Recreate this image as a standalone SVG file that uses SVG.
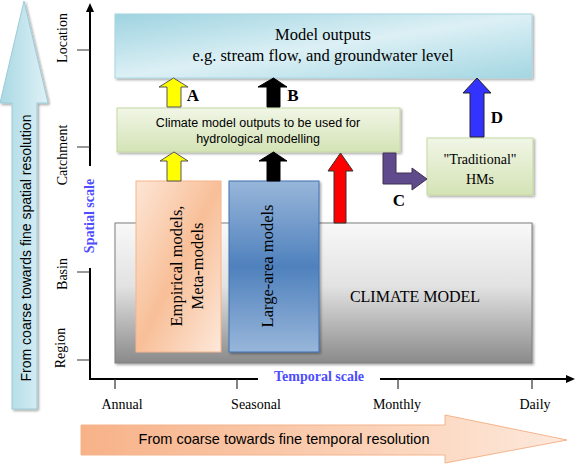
<svg xmlns="http://www.w3.org/2000/svg" width="575" height="465" viewBox="0 0 575 465">
<defs>
<style>
.serif{font-family:"Liberation Serif","Times New Roman",serif;fill:#000}
.sans{font-family:"Liberation Sans",Arial,sans-serif;fill:#000}
.axis{stroke:#000;stroke-width:2;fill:none}
.tick{stroke:#333;stroke-width:1.2}
.lbl{font-family:"Liberation Serif","Times New Roman",serif;font-size:14px;fill:#000}
.axt{font-family:"Liberation Serif","Times New Roman",serif;font-size:14px;font-weight:bold;fill:#4d4dff}
.let{font-family:"Liberation Serif","Times New Roman",serif;font-size:17px;font-weight:bold;fill:#000}
</style>
<linearGradient id="gBlue" x1="0" y1="0" x2="1" y2="1">
<stop offset="0" stop-color="#9ed3e0"/><stop offset="0.5" stop-color="#dcf0f5"/><stop offset="1" stop-color="#a3d6e2"/>
</linearGradient>
<linearGradient id="gGreen" x1="0" y1="0" x2="0" y2="1">
<stop offset="0" stop-color="#f1f6e6"/><stop offset="1" stop-color="#d4e3b6"/>
</linearGradient>
<linearGradient id="gGray" x1="0" y1="0" x2="0" y2="1">
<stop offset="0" stop-color="#f8f8f8"/><stop offset="0.45" stop-color="#e2e2e2"/><stop offset="1" stop-color="#8a8a8a"/>
</linearGradient>
<linearGradient id="gOrange" x1="0" y1="0" x2="1" y2="1">
<stop offset="0" stop-color="#fde6d6"/><stop offset="0.5" stop-color="#f8bf98"/><stop offset="1" stop-color="#fde8da"/>
</linearGradient>
<linearGradient id="gSteel" x1="0" y1="0" x2="0" y2="1">
<stop offset="0" stop-color="#98b6da"/><stop offset="0.5" stop-color="#4f81bd"/><stop offset="1" stop-color="#98b6da"/>
</linearGradient>
<linearGradient id="gLeft" x1="0" y1="0" x2="1" y2="0">
<stop offset="0" stop-color="#a9d8e4"/><stop offset="1" stop-color="#dff1f6"/>
</linearGradient>
<linearGradient id="gBottom" x1="0" y1="0" x2="1" y2="0">
<stop offset="0" stop-color="#f7b288"/><stop offset="0.6" stop-color="#fbd2b8"/><stop offset="1" stop-color="#fde9dc"/>
</linearGradient>
<filter id="sh" x="-5%" y="-5%" width="110%" height="120%">
<feDropShadow dx="1.5" dy="1.5" stdDeviation="1" flood-color="#000" flood-opacity="0.35"/>
</filter>
</defs>
<rect width="575" height="465" fill="#fff"/>

<g id="spatial-resolution-arrow">
<polygon points="12,409 37,409 37,103 48,103 24,1 0,103 12,103" fill="url(#gLeft)" stroke="#9ccbd8" stroke-width="1" filter="url(#sh)"/>
<text class="sans" font-size="14" transform="translate(31,248) rotate(-90)" text-anchor="middle">From coarse towards fine spatial resolution</text>
</g>

<g id="temporal-resolution-arrow">
<polygon points="81,425 445,425 445,415 567,440 445,463 445,455 81,455" fill="url(#gBottom)" stroke="#f4b48c" stroke-width="1"/>
<text class="sans" font-size="14.5" x="284" y="444" text-anchor="middle">From coarse towards fine temporal resolution</text>
</g>

<g id="axes">
<path class="axis" d="M90,166 V9 M90,268 V379 H258 M380,379 H568"/>
<polygon points="90,3 86,12 94,12" fill="#000"/>
<polygon points="575,379 566,375 566,383" fill="#000"/>
<path class="tick" d="M77,50 H90 M77,147 H90 M77,272 H90 M77,360 H90 M115,379 V389 M237,379 V389 M398,379 V389 M532,379 V389"/>
<text class="lbl" transform="translate(67,38) rotate(-90)" text-anchor="middle">Location</text>
<text class="lbl" transform="translate(67,155) rotate(-90)" text-anchor="middle">Catchment</text>
<text class="lbl" transform="translate(67,274) rotate(-90)" text-anchor="middle">Basin</text>
<text class="lbl" transform="translate(65,348) rotate(-90)" text-anchor="middle">Region</text>
<text class="axt" transform="translate(94,216) rotate(-90)" text-anchor="middle">Spatial scale</text>
<text class="axt" x="319" y="381" text-anchor="middle">Temporal scale</text>
<text class="lbl" x="122" y="409" text-anchor="middle">Annual</text>
<text class="lbl" x="256" y="409" text-anchor="middle">Seasonal</text>
<text class="lbl" x="397" y="409" text-anchor="middle">Monthly</text>
<text class="lbl" x="535" y="409" text-anchor="middle">Daily</text>
</g>

<g id="climate-model">
<rect x="115" y="223" width="417" height="140" fill="url(#gGray)" stroke="#7f7f7f" stroke-width="1" filter="url(#sh)"/>
<text class="serif" font-size="16" x="415" y="302" text-anchor="middle">CLIMATE MODEL</text>
</g>

<g id="empirical-models">
<rect x="136" y="181" width="85" height="171" fill="url(#gOrange)" stroke="#f5b48b" stroke-width="1"/>
<text class="serif" font-size="16.5" transform="translate(182,266) rotate(-90)" text-anchor="middle">Empirical models,</text>
<text class="serif" font-size="16.5" transform="translate(203,266) rotate(-90)" text-anchor="middle">Meta-models</text>
</g>

<g id="large-area-models">
<rect x="229" y="181" width="90" height="171" fill="url(#gSteel)" stroke="#3f73b0" stroke-width="1" filter="url(#sh)"/>
<text class="serif" font-size="16.5" transform="translate(273,266) rotate(-90)" text-anchor="middle">Large-area models</text>
</g>

<g id="model-outputs">
<rect x="115" y="14" width="417" height="64" fill="url(#gBlue)" stroke="#a8d6e2" stroke-width="1" filter="url(#sh)"/>
<text class="serif" font-size="16.5" x="323" y="40" text-anchor="middle">Model outputs</text>
<text class="serif" font-size="16.5" x="323" y="61" text-anchor="middle">e.g. stream flow, and groundwater level</text>
</g>

<g id="climate-model-outputs">
<rect x="117" y="108" width="283" height="44" fill="url(#gGreen)" stroke="#c6d9a3" stroke-width="1" filter="url(#sh)"/>
<text class="sans" font-size="12.5" x="258" y="127" text-anchor="middle">Climate model outputs to be used for</text>
<text class="sans" font-size="12.5" x="258" y="143" text-anchor="middle">hydrological modelling</text>
</g>

<g id="traditional-hms">
<rect x="427" y="138" width="106" height="57" fill="url(#gGreen)" stroke="#c6d9a3" stroke-width="1" filter="url(#sh)"/>
<text class="serif" font-size="14" x="480" y="164" text-anchor="middle">"Traditional"</text>
<text class="serif" font-size="14" x="480" y="184" text-anchor="middle">HMs</text>
</g>

<g id="connectors">
<polygon points="167,107 181,107 181,87 188,87 173.5,78 159,87 167,87" fill="#ffff00" stroke="#555" stroke-width="1"/>
<polygon points="267,107 280,107 280,87 287,87 273.5,78 258,87 267,87" fill="#000" stroke="#000" stroke-width="1"/>
<polygon points="167,181 181,181 181,161 188,161 174,152 160,161 167,161" fill="#ffff00" stroke="#555" stroke-width="1"/>
<polygon points="267,181 280,181 280,161 287,161 273.5,152 259,161 267,161" fill="#000" stroke="#000" stroke-width="1"/>
<polygon points="334,223 346,223 346,171 353,171 340.5,153 328,171 334,171" fill="#ff0000" stroke="#333" stroke-width="1"/>
<polygon points="470,137 484,137 484,93 491,93 477,78 463,93 470,93" fill="#3333ff" stroke="#222" stroke-width="1"/>
<polygon points="383,153 396,153 396,173 412,173 412,168 427,179 412,190 412,184 383,184" fill="#5f4b8b" stroke="#3f3151" stroke-width="1"/>
<text class="let" x="193" y="101" text-anchor="middle">A</text>
<text class="let" x="293" y="101" text-anchor="middle">B</text>
<text class="let" x="399" y="206" text-anchor="middle">C</text>
<text class="let" x="497" y="123" text-anchor="middle">D</text>
</g>
</svg>
